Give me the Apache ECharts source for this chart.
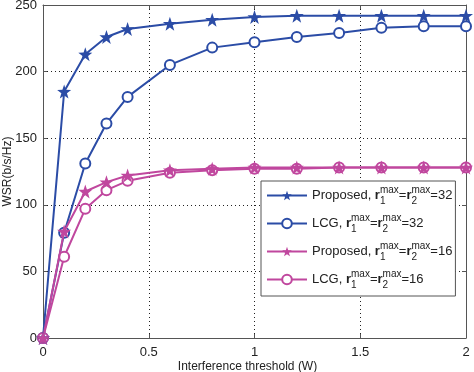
<!DOCTYPE html>
<html><head><meta charset="utf-8">
<script src="https://cdn.jsdelivr.net/npm/echarts@6/dist/echarts.min.js"></script>
<style>html,body{margin:0;padding:0;background:#fff}#c{width:474px;height:372px}</style>
</head><body><div id="c"></div>
<script>
const xValues = [0, 0.1, 0.2, 0.3, 0.4, 0.6, 0.8, 1.0, 1.2, 1.4, 1.6, 1.8, 2.0];
const proposed32 = [0, 185, 213, 226, 232, 236, 239, 241, 242, 242, 242, 242, 242];
const lcg32 = [0, 79, 131, 161, 181, 205, 218, 222, 226, 229, 233, 234, 234];
const proposed16 = [0, 80, 110, 117, 122, 126, 127, 128, 128, 128, 128, 128, 128];
const lcg16 = [0, 61, 97, 111, 118, 124, 126, 127, 127, 128, 128, 128, 128];
const xTicks = [0, 0.5, 1, 1.5, 2];
const yTicks = [0, 50, 100, 150, 200, 250];

const blue = '#2B4CA6';
const mag = '#C0479E';
const star = 'path://M0,-10 L2.35,-3.24 L9.51,-3.09 L3.8,1.24 L5.88,8.09 L0,4 L-5.88,8.09 L-3.8,1.24 L-9.51,-3.09 L-2.35,-3.24 Z';
const font = 'Liberation Sans, Arial, sans-serif';

function pairs(ys){ return xValues.map((x,i)=>[x, ys[i]]); }
function mk(name, ys, color, sym){
  const isStar = sym === 'star';
  return {
    name, type:'line', data: pairs(ys),
    symbol: isStar ? star : 'circle',
    symbolSize: isStar ? 14 : 10,
    lineStyle:{color, width:2},
    itemStyle: isStar ? {color} : {color:'#fff', borderColor: color, borderWidth:2},
    showAllSymbol:true, animation:false, z: isStar?3:2
  };
}
const frameAxis = (extra) => Object.assign({
  axisLine:{show:true, onZero:false, lineStyle:{color:'#555', width:1}},
  axisTick:{show:true, inside:true, length:4, lineStyle:{color:'#555'}},
  axisLabel:{show:false}, splitLine:{show:false}
}, extra);
const chart = echarts.init(document.getElementById('c'));
const legendText = {
  'Proposed32':['Proposed, ','32'], 'LCG32':['LCG, ','32'],
  'Proposed16':['Proposed, ','16'], 'LCG16':['LCG, ','16']
};
chart.setOption({
  animation:false,
  grid:{left:43, right:8, top:5, bottom:34, containLabel:false, outerBoundsMode:'none'},
  xAxis:[{type:'value', min:0, max:2, interval:0.5,
    axisLine:{show:true, onZero:false, lineStyle:{color:'#555', width:1}},
    axisTick:{show:true, inside:true, length:4, lineStyle:{color:'#555'}},
    axisLabel:{color:'#222', fontFamily:font, fontSize:13, margin:8,
      formatter:v=>String(v)},
    splitLine:{show:true, lineStyle:{color:'#222', type:[1,3], width:1}},
    name:'Interference threshold (W)', nameLocation:'middle', nameGap:23, nameMoveOverlap:false,
    nameTextStyle:{color:'#222', fontFamily:font, fontSize:12, padding:[0,14,0,0]}
  }, frameAxis({type:'value', min:0, max:2, interval:0.5, position:'top'})],
  yAxis:[{type:'value', min:0, max:250, interval:50,
    axisLine:{show:true, onZero:false, lineStyle:{color:'#555', width:1}},
    axisTick:{show:true, inside:true, length:4, lineStyle:{color:'#555'}},
    axisLabel:{color:'#222', fontFamily:font, fontSize:13, margin:6},
    splitLine:{show:true, lineStyle:{color:'#222', type:[1,3], width:1}},
    name:'WSR(b/s/Hz)', nameLocation:'middle', nameGap:29, nameMoveOverlap:false,
    nameTextStyle:{color:'#222', fontFamily:font, fontSize:12}
  }, frameAxis({type:'value', min:0, max:250, interval:50, position:'right'})],
  legend:{
    orient:'vertical', left:261, top:181, itemWidth:40, itemHeight:12, itemGap:7,
    padding:[4,3,6,5], borderColor:'#555', borderWidth:1, backgroundColor:'#fff',
    data:['Proposed32','LCG32','Proposed16','LCG16'],
    formatter: n => `{t|${legendText[n][0]}}{r|r}{s|1}{p|max}{t|=}{r|r}{s|2}{p|max}{t|=${legendText[n][1]}}`,
    textStyle:{fontFamily:font, color:'#222', fontSize:13,
      rich:{
        t:{fontFamily:font, fontSize:13, color:'#222', height:21, lineHeight:21},
        r:{fontFamily:font, fontSize:13, fontWeight:'bold', color:'#222'},
        s:{fontFamily:font, fontSize:10, color:'#222', verticalAlign:'bottom', padding:[6,0,0,0], width:0},
        p:{fontFamily:font, fontSize:10, color:'#222', verticalAlign:'top', padding:[0,0,8,0]}
      }}
  },
  series:[
    mk('Proposed32', proposed32, blue, 'star'),
    mk('LCG32', lcg32, blue, 'circle'),
    mk('Proposed16', proposed16, mag, 'star'),
    mk('LCG16', lcg16, mag, 'circle')
  ]
});
</script></body></html>
